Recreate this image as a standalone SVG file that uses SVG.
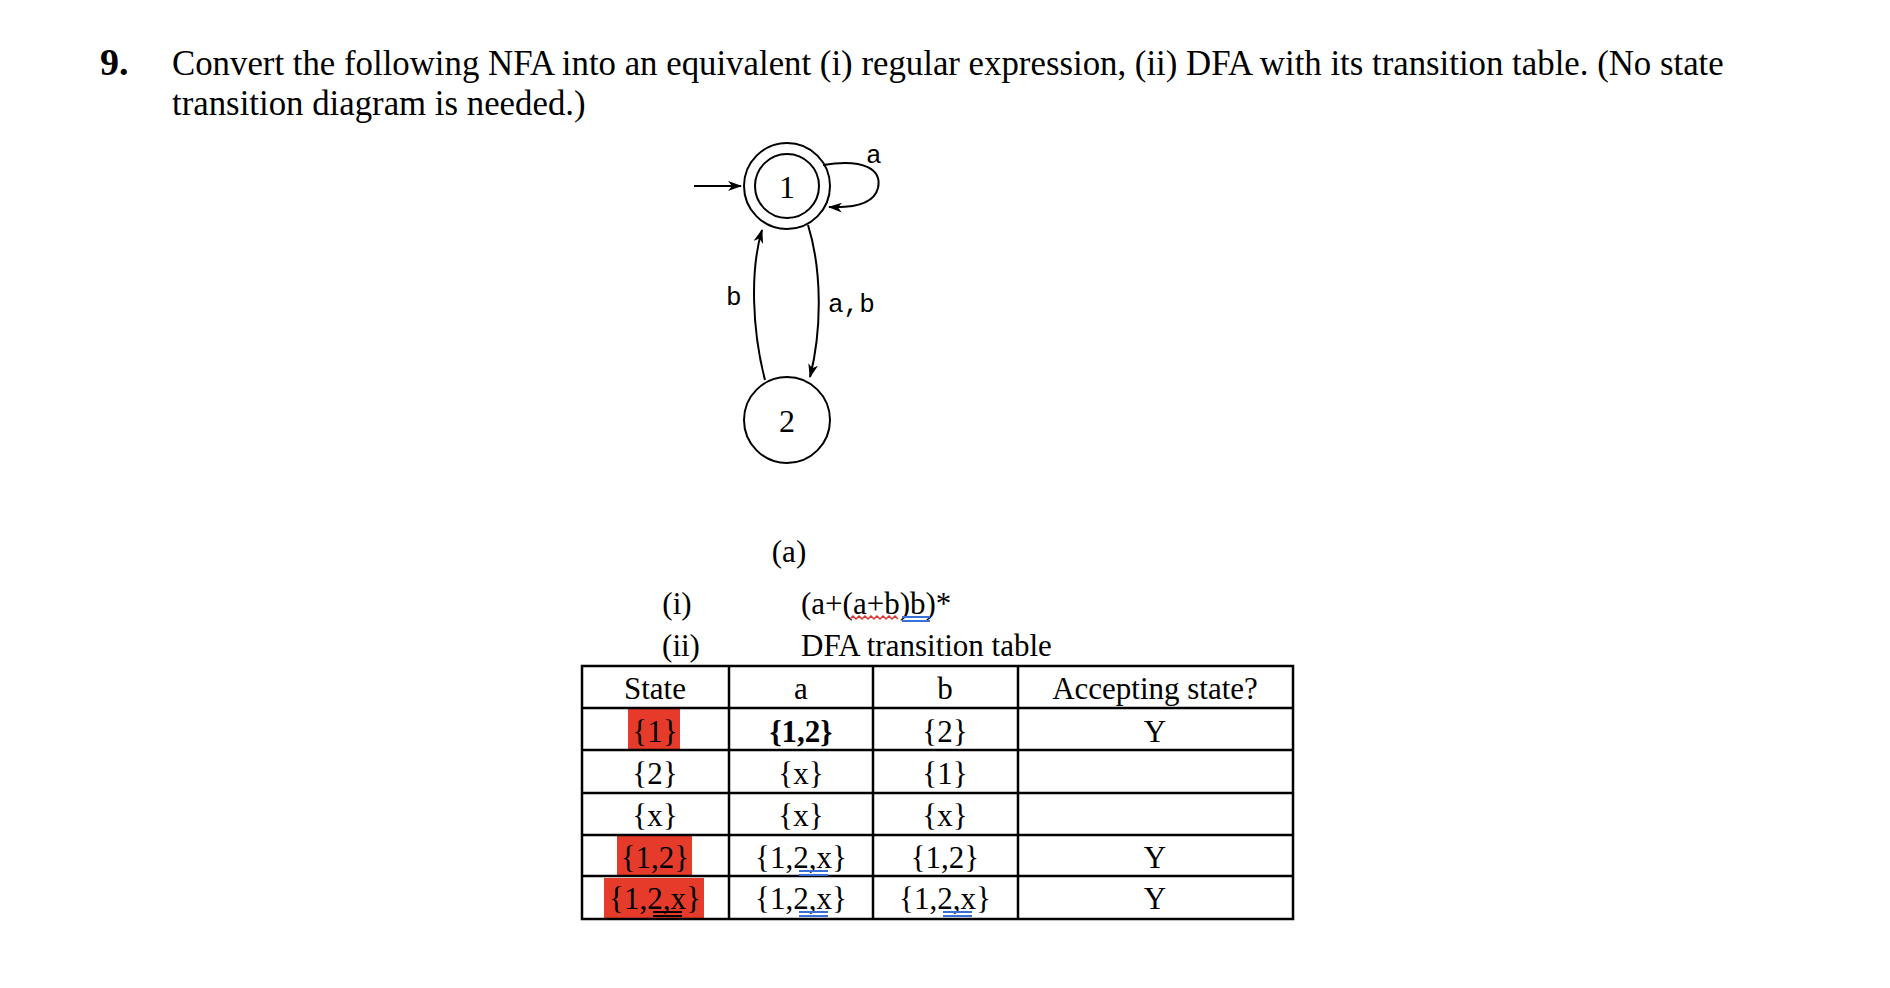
<svg xmlns="http://www.w3.org/2000/svg" width="1890" height="988" viewBox="0 0 1890 988">
<style>
.t{font-family:"Liberation Serif",serif;font-size:31px;fill:#000}
.c{text-anchor:middle}
.m{font-family:"Liberation Mono",monospace;font-size:26px;fill:#000}
.s{fill:none;stroke:#000;stroke-width:2}
.g{stroke:#000;stroke-width:2.5}
.hl{fill:#e63b2a}
.bu{stroke:#3a6fd8;stroke-width:2}
</style>
<defs><marker id="ah" markerWidth="14" markerHeight="10" refX="13" refY="5" orient="auto" markerUnits="userSpaceOnUse"><path d="M0,0 L14,5 L0,10 L4,5 z" fill="#000"/></marker></defs>
<text class="t" x="100" y="75" style="font-weight:bold;font-size:38px">9.</text>
<text class="t" x="172" y="75" style="font-size:34.8px">Convert the following NFA into an equivalent (i) regular expression, (ii) DFA with its transition table. (No state</text>
<text class="t" x="172" y="115" style="font-size:34.8px">transition diagram is needed.)</text>
<g id="n1"><circle class="s" cx="787" cy="186" r="43"/><circle class="s" cx="787" cy="186" r="32"/><text class="t c" x="787" y="198" style="font-size:32px">1</text></g>
<g id="n2"><circle class="s" cx="787" cy="420" r="43"/><text class="t c" x="787" y="432" style="font-size:32px">2</text></g>
<g id="edges">
<path class="s" d="M694,186 L741,186" marker-end="url(#ah)"/>
<path class="s" d="M823,165 C865,158 882,170 878,188 C874,204 852,208 829,207" marker-end="url(#ah)"/>
<path class="s" d="M765,380 C752,330 750,270 762,230" marker-end="url(#ah)"/>
<path class="s" d="M808,225 C822,270 822,330 810,377" marker-end="url(#ah)"/>
<text class="m" x="866" y="163">a</text>
<text class="m" x="726" y="305">b</text>
<text class="m" x="828" y="312">a,b</text>
</g>
<text class="t c" x="789" y="562">(a)</text>
<text class="t c" x="677" y="614">(i)</text>
<text class="t c" x="681" y="656">(ii)</text>
<text class="t" x="801" y="614">(a+(a+b)b)*</text>
<path d="M850,619 l3,-3 l3,3 l3,-3 l3,3 l3,-3 l3,3 l3,-3 l3,3 l3,-3 l3,3 l3,-3 l3,3 l3,-3 l3,3 l3,-3 l3,3" fill="none" stroke="#d33" stroke-width="1.5"/>
<line class="bu" x1="902" y1="617" x2="930" y2="617"/><line class="bu" x1="902" y1="621" x2="930" y2="621"/>
<text class="t" x="801" y="656">DFA transition table</text>
<rect class="hl" x="628" y="709" width="52" height="40"/>
<rect class="hl" x="617" y="836" width="75" height="39"/>
<rect class="hl" x="604" y="878" width="100" height="40"/>
<g fill="none" class="g">
<rect x="582" y="666" width="711" height="253"/>
<line x1="582" y1="708" x2="1293" y2="708"/><line x1="582" y1="750" x2="1293" y2="750"/><line x1="582" y1="793" x2="1293" y2="793"/><line x1="582" y1="835" x2="1293" y2="835"/><line x1="582" y1="876" x2="1293" y2="876"/>
<line x1="729" y1="666" x2="729" y2="919"/><line x1="873" y1="666" x2="873" y2="919"/><line x1="1018" y1="666" x2="1018" y2="919"/>
</g>
<g class="t c">
<text x="655" y="699">State</text><text x="801" y="699">a</text><text x="945" y="699">b</text><text x="1155" y="699">Accepting state?</text>
<text x="655" y="742">{1}</text><text x="801" y="742" font-weight="bold">{1,2}</text><text x="945" y="742">{2}</text><text x="1155" y="742">Y</text>
<text x="655" y="784">{2}</text><text x="801" y="784">{x}</text><text x="945" y="784">{1}</text>
<text x="655" y="826">{x}</text><text x="801" y="826">{x}</text><text x="945" y="826">{x}</text>
<text x="655" y="868">{1,2}</text><text x="801" y="868">{1,2,x}</text><text x="945" y="868">{1,2}</text><text x="1155" y="868">Y</text>
<text x="655" y="909">{1,2,x}</text><text x="801" y="909">{1,2,x}</text><text x="945" y="909">{1,2,x}</text><text x="1155" y="909">Y</text>
</g>
<g>
<line class="bu" x1="799" y1="871" x2="828" y2="871"/><line class="bu" x1="799" y1="875" x2="828" y2="875"/>
<line class="bu" x1="799" y1="912" x2="828" y2="912"/><line class="bu" x1="799" y1="916" x2="828" y2="916"/>
<line class="bu" x1="943" y1="912" x2="972" y2="912"/><line class="bu" x1="943" y1="916" x2="972" y2="916"/>
<line stroke="#000" stroke-width="2" x1="653" y1="912" x2="682" y2="912"/><line stroke="#000" stroke-width="2" x1="653" y1="916" x2="682" y2="916"/>
</g>
</svg>
